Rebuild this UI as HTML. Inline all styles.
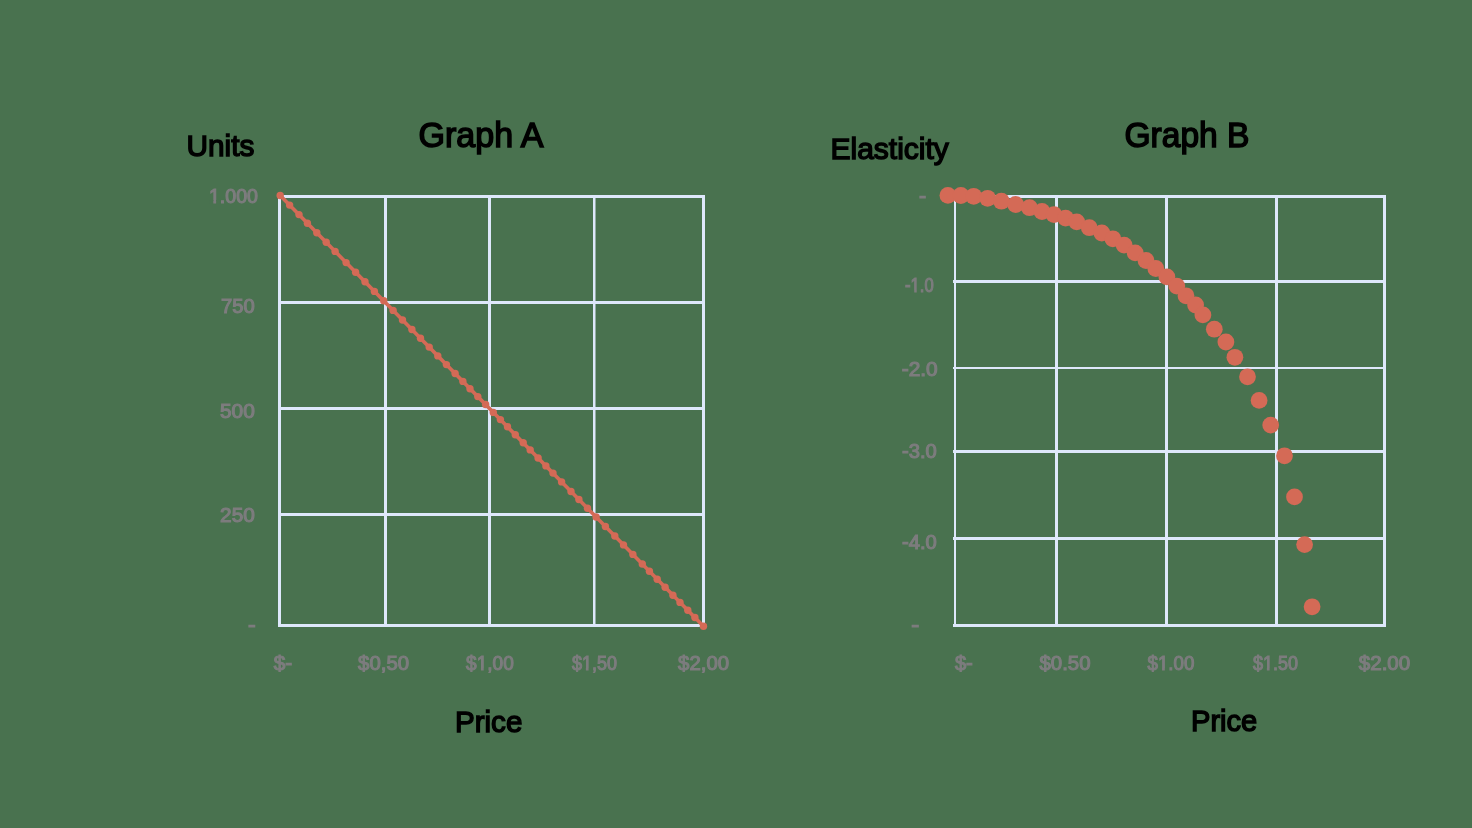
<!DOCTYPE html>
<html><head><meta charset="utf-8"><style>
html,body{margin:0;padding:0;width:1472px;height:828px;overflow:hidden;background:#49724f;}
svg{display:block;will-change:transform;}
</style></head><body>
<svg width="1472" height="828" viewBox="0 0 1472 828">
<rect x="0" y="0" width="1472" height="828" fill="#49724f"/>
<rect x="278" y="195" width="3" height="432" fill="#dee8fb"/>
<rect x="384" y="195" width="3" height="432" fill="#dee8fb"/>
<rect x="488" y="195" width="3" height="432" fill="#dee8fb"/>
<rect x="593" y="195" width="2.5" height="432" fill="#dee8fb"/>
<rect x="702" y="195" width="3" height="432" fill="#dee8fb"/>
<rect x="278" y="195" width="427" height="3" fill="#dee8fb"/>
<rect x="278" y="301" width="427" height="3" fill="#dee8fb"/>
<rect x="278" y="407" width="427" height="3" fill="#dee8fb"/>
<rect x="278" y="513" width="427" height="3" fill="#dee8fb"/>
<rect x="278" y="624" width="427" height="3" fill="#dee8fb"/>
<rect x="954" y="195" width="2" height="432" fill="#dee8fb"/>
<rect x="1055" y="195" width="3" height="432" fill="#dee8fb"/>
<rect x="1165" y="195" width="3" height="432" fill="#dee8fb"/>
<rect x="1275" y="195" width="3" height="432" fill="#dee8fb"/>
<rect x="1383" y="195" width="3" height="432" fill="#dee8fb"/>
<rect x="953" y="195" width="433" height="3" fill="#dee8fb"/>
<rect x="953" y="280" width="433" height="3" fill="#dee8fb"/>
<rect x="953" y="367" width="433" height="2" fill="#dee8fb"/>
<rect x="953" y="450" width="433" height="3" fill="#dee8fb"/>
<rect x="953" y="537" width="433" height="3" fill="#dee8fb"/>
<rect x="953" y="624" width="433" height="3" fill="#dee8fb"/>
<line x1="280.2" y1="195.5" x2="703.5" y2="626.3" stroke="#d46a56" stroke-width="3.6"/>
<circle cx="280.2" cy="195.5" r="3.7" fill="#d46a56"/>
<circle cx="289.6" cy="205.1" r="3.7" fill="#d46a56"/>
<circle cx="299.0" cy="214.6" r="3.7" fill="#d46a56"/>
<circle cx="307.4" cy="223.2" r="3.7" fill="#d46a56"/>
<circle cx="316.8" cy="232.7" r="3.7" fill="#d46a56"/>
<circle cx="326.2" cy="242.3" r="3.7" fill="#d46a56"/>
<circle cx="335.1" cy="251.4" r="3.7" fill="#d46a56"/>
<circle cx="346.1" cy="262.6" r="3.7" fill="#d46a56"/>
<circle cx="355.6" cy="272.2" r="3.7" fill="#d46a56"/>
<circle cx="365.0" cy="281.8" r="3.7" fill="#d46a56"/>
<circle cx="374.4" cy="291.4" r="3.7" fill="#d46a56"/>
<circle cx="383.7" cy="300.8" r="3.7" fill="#d46a56"/>
<circle cx="393.1" cy="310.4" r="3.7" fill="#d46a56"/>
<circle cx="402.5" cy="320.0" r="3.7" fill="#d46a56"/>
<circle cx="411.9" cy="329.5" r="3.7" fill="#d46a56"/>
<circle cx="420.5" cy="338.3" r="3.7" fill="#d46a56"/>
<circle cx="429.2" cy="347.1" r="3.7" fill="#d46a56"/>
<circle cx="437.8" cy="355.9" r="3.7" fill="#d46a56"/>
<circle cx="446.4" cy="364.6" r="3.7" fill="#d46a56"/>
<circle cx="455.1" cy="373.5" r="3.7" fill="#d46a56"/>
<circle cx="462.9" cy="381.4" r="3.7" fill="#d46a56"/>
<circle cx="470.0" cy="388.7" r="3.7" fill="#d46a56"/>
<circle cx="477.8" cy="396.6" r="3.7" fill="#d46a56"/>
<circle cx="485.6" cy="404.5" r="3.7" fill="#d46a56"/>
<circle cx="493.3" cy="412.4" r="3.7" fill="#d46a56"/>
<circle cx="500.4" cy="419.6" r="3.7" fill="#d46a56"/>
<circle cx="507.5" cy="426.8" r="3.7" fill="#d46a56"/>
<circle cx="515.3" cy="434.8" r="3.7" fill="#d46a56"/>
<circle cx="523.2" cy="442.8" r="3.7" fill="#d46a56"/>
<circle cx="530.2" cy="449.9" r="3.7" fill="#d46a56"/>
<circle cx="538.1" cy="458.0" r="3.7" fill="#d46a56"/>
<circle cx="545.9" cy="465.9" r="3.7" fill="#d46a56"/>
<circle cx="553.0" cy="473.1" r="3.7" fill="#d46a56"/>
<circle cx="561.6" cy="481.9" r="3.7" fill="#d46a56"/>
<circle cx="571.0" cy="491.5" r="3.7" fill="#d46a56"/>
<circle cx="578.9" cy="499.5" r="3.7" fill="#d46a56"/>
<circle cx="587.5" cy="508.2" r="3.7" fill="#d46a56"/>
<circle cx="596.1" cy="517.0" r="3.7" fill="#d46a56"/>
<circle cx="605.4" cy="526.5" r="3.7" fill="#d46a56"/>
<circle cx="614.8" cy="536.0" r="3.7" fill="#d46a56"/>
<circle cx="623.5" cy="544.9" r="3.7" fill="#d46a56"/>
<circle cx="632.9" cy="554.4" r="3.7" fill="#d46a56"/>
<circle cx="642.3" cy="564.0" r="3.7" fill="#d46a56"/>
<circle cx="649.4" cy="571.2" r="3.7" fill="#d46a56"/>
<circle cx="657.2" cy="579.2" r="3.7" fill="#d46a56"/>
<circle cx="665.1" cy="587.2" r="3.7" fill="#d46a56"/>
<circle cx="672.9" cy="595.2" r="3.7" fill="#d46a56"/>
<circle cx="680.0" cy="602.4" r="3.7" fill="#d46a56"/>
<circle cx="687.8" cy="610.3" r="3.7" fill="#d46a56"/>
<circle cx="694.9" cy="617.5" r="3.7" fill="#d46a56"/>
<circle cx="703.5" cy="626.3" r="3.7" fill="#d46a56"/>
<circle cx="947.9" cy="195.4" r="8.4" fill="#d46a56"/>
<circle cx="960.9" cy="195.5" r="8.4" fill="#d46a56"/>
<circle cx="973.7" cy="196.3" r="8.4" fill="#d46a56"/>
<circle cx="987.6" cy="198.3" r="8.4" fill="#d46a56"/>
<circle cx="1001.4" cy="201.2" r="8.4" fill="#d46a56"/>
<circle cx="1015.7" cy="204.5" r="8.4" fill="#d46a56"/>
<circle cx="1029.5" cy="207.7" r="8.4" fill="#d46a56"/>
<circle cx="1042" cy="211.5" r="8.4" fill="#d46a56"/>
<circle cx="1054" cy="214.6" r="8.4" fill="#d46a56"/>
<circle cx="1065.6" cy="218.1" r="8.4" fill="#d46a56"/>
<circle cx="1076.7" cy="221.9" r="8.4" fill="#d46a56"/>
<circle cx="1089.3" cy="227.7" r="8.4" fill="#d46a56"/>
<circle cx="1101.8" cy="233" r="8.4" fill="#d46a56"/>
<circle cx="1112.9" cy="238.8" r="8.4" fill="#d46a56"/>
<circle cx="1124.1" cy="245.1" r="8.4" fill="#d46a56"/>
<circle cx="1135.2" cy="252.9" r="8.4" fill="#d46a56"/>
<circle cx="1146" cy="260.5" r="8.4" fill="#d46a56"/>
<circle cx="1155.8" cy="268.5" r="8.4" fill="#d46a56"/>
<circle cx="1166.9" cy="276.9" r="8.4" fill="#d46a56"/>
<circle cx="1176.8" cy="286.1" r="8.4" fill="#d46a56"/>
<circle cx="1186" cy="295.8" r="8.4" fill="#d46a56"/>
<circle cx="1195.6" cy="305" r="8.4" fill="#d46a56"/>
<circle cx="1202.9" cy="314.9" r="8.4" fill="#d46a56"/>
<circle cx="1214.3" cy="329.2" r="8.4" fill="#d46a56"/>
<circle cx="1225.9" cy="342" r="8.4" fill="#d46a56"/>
<circle cx="1234.9" cy="357.3" r="8.4" fill="#d46a56"/>
<circle cx="1247.5" cy="376.8" r="8.4" fill="#d46a56"/>
<circle cx="1259.1" cy="400.4" r="8.4" fill="#d46a56"/>
<circle cx="1270.7" cy="425.1" r="8.4" fill="#d46a56"/>
<circle cx="1284.5" cy="455.8" r="8.4" fill="#d46a56"/>
<circle cx="1294.5" cy="496.9" r="8.4" fill="#d46a56"/>
<circle cx="1304.6" cy="544.6" r="8.4" fill="#d46a56"/>
<circle cx="1312.1" cy="606.8" r="8.4" fill="#d46a56"/>
<text x="418.50" y="147.45" font-family='"Liberation Sans", sans-serif' font-size="34.2" font-weight="normal" fill="#000000" textLength="124.98" lengthAdjust="spacingAndGlyphs" stroke="#000000" stroke-width="1.5">Graph A</text>
<text x="1124.50" y="147.45" font-family='"Liberation Sans", sans-serif' font-size="34.2" font-weight="normal" fill="#000000" textLength="124.96" lengthAdjust="spacingAndGlyphs" stroke="#000000" stroke-width="1.5">Graph B</text>
<text x="186.50" y="156.10" font-family='"Liberation Sans", sans-serif' font-size="29.5" font-weight="normal" fill="#000000" textLength="67.83" lengthAdjust="spacingAndGlyphs" stroke="#000000" stroke-width="1.4">Units</text>
<text x="830.50" y="159.00" font-family='"Liberation Sans", sans-serif' font-size="29.5" font-weight="normal" fill="#000000" textLength="118.35" lengthAdjust="spacingAndGlyphs" stroke="#000000" stroke-width="1.4">Elasticity</text>
<text x="455.00" y="732.00" font-family='"Liberation Sans", sans-serif' font-size="29.5" font-weight="normal" fill="#000000" textLength="67.34" lengthAdjust="spacingAndGlyphs" stroke="#000000" stroke-width="1.4">Price</text>
<text x="1191.00" y="731.30" font-family='"Liberation Sans", sans-serif' font-size="29.5" font-weight="normal" fill="#000000" textLength="66.32" lengthAdjust="spacingAndGlyphs" stroke="#000000" stroke-width="1.4">Price</text>
<text x="208.90" y="202.50" font-family='"Liberation Sans", sans-serif' font-size="19.3" font-weight="normal" fill="#7d7c7e" textLength="49.07" lengthAdjust="spacingAndGlyphs" stroke="#7d7c7e" stroke-width="1.1">1.000</text>
<text x="221.10" y="313.40" font-family='"Liberation Sans", sans-serif' font-size="19.3" font-weight="normal" fill="#7d7c7e" textLength="33.66" lengthAdjust="spacingAndGlyphs" stroke="#7d7c7e" stroke-width="1.1">750</text>
<text x="220.00" y="417.70" font-family='"Liberation Sans", sans-serif' font-size="19.3" font-weight="normal" fill="#7d7c7e" textLength="34.79" lengthAdjust="spacingAndGlyphs" stroke="#7d7c7e" stroke-width="1.1">500</text>
<text x="220.10" y="521.50" font-family='"Liberation Sans", sans-serif' font-size="19.3" font-weight="normal" fill="#7d7c7e" textLength="34.68" lengthAdjust="spacingAndGlyphs" stroke="#7d7c7e" stroke-width="1.1">250</text>
<text x="247.90" y="632.10" font-family='"Liberation Sans", sans-serif' font-size="19.3" font-weight="normal" fill="#7d7c7e" textLength="7.64" lengthAdjust="spacingAndGlyphs" stroke="#7d7c7e" stroke-width="1.1">-</text>
<text x="273.80" y="670.40" font-family='"Liberation Sans", sans-serif' font-size="19.3" font-weight="normal" fill="#7d7c7e" textLength="18.46" lengthAdjust="spacingAndGlyphs" stroke="#7d7c7e" stroke-width="1.1">$-</text>
<text x="358.10" y="670.40" font-family='"Liberation Sans", sans-serif' font-size="19.3" font-weight="normal" fill="#7d7c7e" textLength="50.93" lengthAdjust="spacingAndGlyphs" stroke="#7d7c7e" stroke-width="1.1">$0,50</text>
<text x="466.10" y="670.40" font-family='"Liberation Sans", sans-serif' font-size="19.3" font-weight="normal" fill="#7d7c7e" textLength="47.66" lengthAdjust="spacingAndGlyphs" stroke="#7d7c7e" stroke-width="1.1">$1,00</text>
<text x="571.90" y="670.40" font-family='"Liberation Sans", sans-serif' font-size="19.3" font-weight="normal" fill="#7d7c7e" textLength="45.03" lengthAdjust="spacingAndGlyphs" stroke="#7d7c7e" stroke-width="1.1">$1,50</text>
<text x="678.10" y="670.40" font-family='"Liberation Sans", sans-serif' font-size="19.3" font-weight="normal" fill="#7d7c7e" textLength="50.93" lengthAdjust="spacingAndGlyphs" stroke="#7d7c7e" stroke-width="1.1">$2,00</text>
<text x="919.00" y="203.10" font-family='"Liberation Sans", sans-serif' font-size="19.3" font-weight="normal" fill="#7d7c7e" textLength="7.14" lengthAdjust="spacingAndGlyphs" stroke="#7d7c7e" stroke-width="1.1">-</text>
<text x="905.00" y="292.40" font-family='"Liberation Sans", sans-serif' font-size="19.3" font-weight="normal" fill="#7d7c7e" textLength="28.67" lengthAdjust="spacingAndGlyphs" stroke="#7d7c7e" stroke-width="1.1">-1.0</text>
<text x="901.70" y="376.40" font-family='"Liberation Sans", sans-serif' font-size="19.3" font-weight="normal" fill="#7d7c7e" textLength="35.96" lengthAdjust="spacingAndGlyphs" stroke="#7d7c7e" stroke-width="1.1">-2.0</text>
<text x="902.00" y="458.30" font-family='"Liberation Sans", sans-serif' font-size="19.3" font-weight="normal" fill="#7d7c7e" textLength="34.74" lengthAdjust="spacingAndGlyphs" stroke="#7d7c7e" stroke-width="1.1">-3.0</text>
<text x="902.00" y="548.60" font-family='"Liberation Sans", sans-serif' font-size="19.3" font-weight="normal" fill="#7d7c7e" textLength="34.74" lengthAdjust="spacingAndGlyphs" stroke="#7d7c7e" stroke-width="1.1">-4.0</text>
<text x="911.30" y="632.10" font-family='"Liberation Sans", sans-serif' font-size="19.3" font-weight="normal" fill="#7d7c7e" textLength="7.98" lengthAdjust="spacingAndGlyphs" stroke="#7d7c7e" stroke-width="1.1">-</text>
<text x="954.90" y="670.40" font-family='"Liberation Sans", sans-serif' font-size="19.3" font-weight="normal" fill="#7d7c7e" textLength="17.93" lengthAdjust="spacingAndGlyphs" stroke="#7d7c7e" stroke-width="1.1">$-</text>
<text x="1039.50" y="670.40" font-family='"Liberation Sans", sans-serif' font-size="19.3" font-weight="normal" fill="#7d7c7e" textLength="51.02" lengthAdjust="spacingAndGlyphs" stroke="#7d7c7e" stroke-width="1.1">$0.50</text>
<text x="1147.50" y="670.40" font-family='"Liberation Sans", sans-serif' font-size="19.3" font-weight="normal" fill="#7d7c7e" textLength="46.82" lengthAdjust="spacingAndGlyphs" stroke="#7d7c7e" stroke-width="1.1">$1.00</text>
<text x="1252.90" y="670.40" font-family='"Liberation Sans", sans-serif' font-size="19.3" font-weight="normal" fill="#7d7c7e" textLength="45.03" lengthAdjust="spacingAndGlyphs" stroke="#7d7c7e" stroke-width="1.1">$1.50</text>
<text x="1358.75" y="670.40" font-family='"Liberation Sans", sans-serif' font-size="19.3" font-weight="normal" fill="#7d7c7e" textLength="51.53" lengthAdjust="spacingAndGlyphs" stroke="#7d7c7e" stroke-width="1.1">$2.00</text>
<rect x="209.27" y="200.00" width="4.01" height="4.00" fill="#49724f"/>
<rect x="216.12" y="200.00" width="3.86" height="4.00" fill="#49724f"/>
<rect x="477.03" y="668.00" width="3.90" height="4.00" fill="#49724f"/>
<rect x="483.71" y="668.00" width="3.75" height="4.00" fill="#49724f"/>
<rect x="582.19" y="668.00" width="3.68" height="4.00" fill="#49724f"/>
<rect x="588.57" y="668.00" width="3.54" height="4.00" fill="#49724f"/>
<rect x="910.76" y="290.00" width="3.41" height="4.00" fill="#49724f"/>
<rect x="916.74" y="290.00" width="3.28" height="4.00" fill="#49724f"/>
<rect x="1158.23" y="668.00" width="3.83" height="4.00" fill="#49724f"/>
<rect x="1164.81" y="668.00" width="3.68" height="4.00" fill="#49724f"/>
<rect x="1263.19" y="668.00" width="3.68" height="4.00" fill="#49724f"/>
<rect x="1269.57" y="668.00" width="3.54" height="4.00" fill="#49724f"/>
</svg>
</body></html>
